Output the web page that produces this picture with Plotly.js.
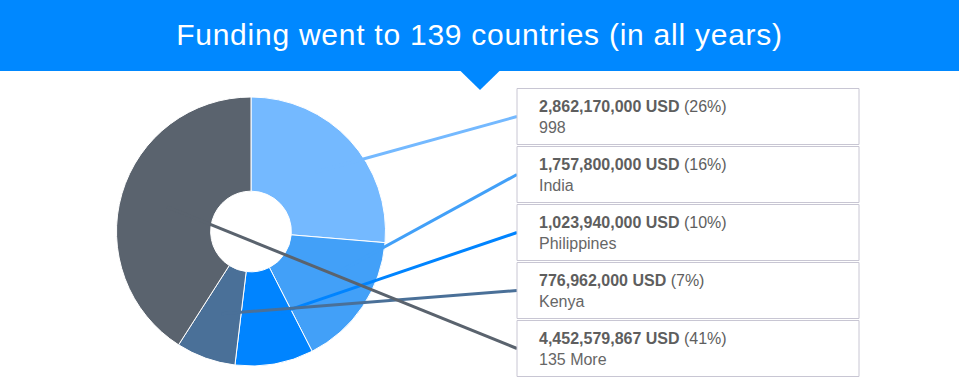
<!DOCTYPE html>
<html>
<head>
<meta charset="utf-8">
<script src="https://cdn.plot.ly/plotly-3.0.1.min.js"></script>
<style>
html,body{margin:0;padding:0;background:#fff;}
#chart{width:959px;height:390px;}
#chart .gtitle{letter-spacing:0.75px;}
</style>
</head>
<body>
<div id="chart"></div>
<script>
// ---- data ----
const labels = ["998", "India", "Philippines", "Kenya", "135 More"];
const values = [2862170000, 1757800000, 1023940000, 776962000, 4452579867];
const valueText = ["2,862,170,000", "1,757,800,000", "1,023,940,000", "776,962,000", "4,452,579,867"];
const pctText = ["26%", "16%", "10%", "7%", "41%"];
const colors = ["#74b9ff", "#42a0f8", "#0084ff", "#4a7098", "#5a636e"];
const titleText = "Funding went to 139 countries (in all years)";

// ---- layout geometry (pixels) ----
const W = 959, H = 390;
const cx = 251, cy = 231.5, R = 134.5, holeFrac = 0.3;
const boxLeft = 517, boxRight = 859, boxTop0 = 88.5, boxStep = 58, boxH = 56;
const FONT = "'Liberation Sans', Arial, Helvetica, sans-serif";
const px = x => x / W;
const py = y => 1 - y / H;

const total = values.reduce((a, b) => a + b, 0);
const shapes = [];
const annotations = [];

// header bar
shapes.push({type: "rect", xref: "paper", yref: "paper", x0: 0, x1: 1, y0: py(71), y1: 1,
  fillcolor: "#0088ff", line: {width: 0}, layer: "below"});
shapes.push({type: "path", xref: "paper", yref: "paper",
  path: `M ${px(460)} ${py(70.5)} L ${px(500)} ${py(70.5)} L ${px(480)} ${py(90)} Z`,
  fillcolor: "#0088ff", line: {width: 0}, layer: "below"});

// leader lines from slice centroids to boxes
let cum = 0;
const rMid = R * (1 + holeFrac) / 2;
values.forEach((v, i) => {
  const a0 = cum / total * 2 * Math.PI;
  cum += v;
  const a1 = cum / total * 2 * Math.PI;
  const am = (a0 + a1) / 2;
  const sx = cx + rMid * Math.sin(am);
  const sy = cy - rMid * Math.cos(am);
  const ey = boxTop0 + boxStep * i + boxH / 2;
  shapes.push({type: "line", xref: "paper", yref: "paper",
    x0: px(sx), y0: py(sy), x1: px(boxLeft), y1: py(ey),
    line: {color: colors[i], width: 3}, layer: "above"});
});

// boxes + labels
labels.forEach((lab, i) => {
  const top = boxTop0 + boxStep * i;
  shapes.push({type: "rect", xref: "paper", yref: "paper",
    x0: px(boxLeft), x1: px(boxRight), y0: py(top + boxH), y1: py(top),
    fillcolor: "#ffffff", line: {color: "#c8c6d3", width: 1}, layer: "above"});
  annotations.push({xref: "paper", yref: "paper", x: px(536.5), y: py(top + 18),
    xanchor: "left", yanchor: "middle", showarrow: false,
    text: `<b>${valueText[i]} USD</b> (${pctText[i]})`,
    font: {family: FONT, size: 16, color: "#5e5e5e"}});
  annotations.push({xref: "paper", yref: "paper", x: px(536.5), y: py(top + 39),
    xanchor: "left", yanchor: "middle", showarrow: false,
    text: lab,
    font: {family: FONT, size: 16, color: "#666666"}});
});

const trace = {
  type: "pie",
  labels: labels,
  values: values,
  sort: false,
  direction: "clockwise",
  rotation: 0,
  hole: holeFrac,
  textinfo: "none",
  hoverinfo: "label+value+percent",
  marker: {colors: colors, line: {color: "#ffffff", width: 1}},
  domain: {x: [px(cx - R), px(cx + R)], y: [py(cy + R), py(cy - R)]},
  showlegend: false
};

const layout = {
  width: W, height: H,
  margin: {l: 0, r: 0, t: 0, b: 0},
  paper_bgcolor: "#ffffff",
  showlegend: false,
  title: {text: titleText, font: {family: FONT, size: 30, color: "#ffffff"},
    x: 0.5, xanchor: "center", xref: "paper", y: 1 - 34 / H, yanchor: "middle", yref: "container"},
  shapes: shapes,
  annotations: annotations
};

Plotly.newPlot("chart", [trace], layout, {displayModeBar: false, staticPlot: true});
</script>
</body>
</html>
